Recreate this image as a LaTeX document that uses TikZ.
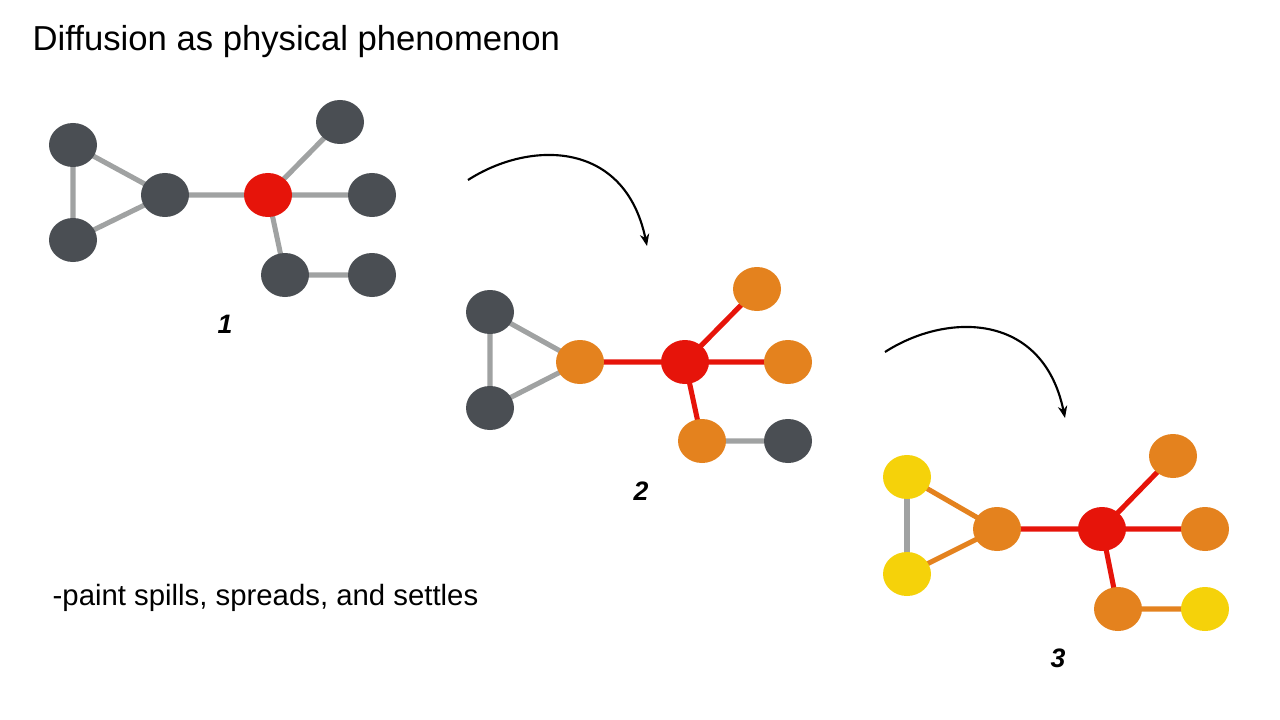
\documentclass[tikz,border=0pt]{standalone}
\usepackage{fontspec}
\setmainfont{Liberation Sans}
\usetikzlibrary{shapes.geometric,arrows.meta}
\definecolor{dk}{RGB}{74,78,83}
\definecolor{rd}{RGB}{230,20,10}
\definecolor{og}{RGB}{228,130,30}
\definecolor{yl}{RGB}{245,210,10}
\definecolor{gy}{RGB}{160,162,162}
\tikzset{
  nd/.style={ellipse,minimum width=36pt,minimum height=33pt,inner sep=0pt,fill=#1},
  ed/.style={draw=#1,line width=3.8pt},
  lbl/.style={font=\bfseries\itshape\fontsize{20}{24}\selectfont},
  arr/.style={line width=1.6pt,-{Stealth[length=9pt,width=7pt]}}
}
\begin{document}
\begin{tikzpicture}[x=0.75pt,y=-0.75pt]
\useasboundingbox (0,0) rectangle (1280,720);
\node[anchor=west,font=\fontsize{26}{30}\selectfont] (title) at (28,42) {Diffusion as physical phenomenon};
\node[anchor=west,font=\fontsize{22}{26}\selectfont] (txt) at (48,598) {-paint spills, spreads, and settles};
% graph 1
\begin{scope}
\coordinate (a1) at (73,145); \coordinate (b1) at (73,240); \coordinate (c1) at (165,195);
\coordinate (r1) at (268,195); \coordinate (t1) at (340,122); \coordinate (e1) at (372,195);
\coordinate (f1) at (285,275); \coordinate (g1) at (372,275);
\draw[ed=gy] (a1)--(b1) (a1)--(c1) (b1)--(c1) (c1)--(r1) (r1)--(t1) (r1)--(e1) (r1)--(f1) (f1)--(g1);
\node[nd=dk] (na1) at (a1) {}; \node[nd=dk] (nb1) at (b1) {}; \node[nd=dk] (nc1) at (c1) {};
\node[nd=rd] (nr1) at (r1) {}; \node[nd=dk] (nt1) at (t1) {}; \node[nd=dk] (ne1) at (e1) {};
\node[nd=dk] (nf1) at (f1) {}; \node[nd=dk] (ng1) at (g1) {};
\node[lbl] (l1) at (225,324) {1};
\end{scope}
% graph 2
\coordinate (a2) at (490,312); \coordinate (b2) at (490,408); \coordinate (c2) at (580,362);
\coordinate (r2) at (685,362); \coordinate (t2) at (757,289); \coordinate (e2) at (788,362);
\coordinate (f2) at (702,441); \coordinate (g2) at (788,441);
\draw[ed=gy] (a2)--(b2) (a2)--(c2) (b2)--(c2) (f2)--(g2);
\draw[ed=rd] (c2)--(r2) (r2)--(t2) (r2)--(e2) (r2)--(f2);
\node[nd=dk] (na2) at (a2) {}; \node[nd=dk] (nb2) at (b2) {}; \node[nd=og] (nc2) at (c2) {};
\node[nd=rd] (nr2) at (r2) {}; \node[nd=og] (nt2) at (t2) {}; \node[nd=og] (ne2) at (e2) {};
\node[nd=og] (nf2) at (f2) {}; \node[nd=dk] (ng2) at (g2) {};
\node[lbl] (l2) at (641,491) {2};
% graph 3
\coordinate (a3) at (907,477); \coordinate (b3) at (907,574); \coordinate (c3) at (997,529);
\coordinate (r3) at (1102,529); \coordinate (t3) at (1173,456); \coordinate (e3) at (1205,529);
\coordinate (f3) at (1118,609); \coordinate (g3) at (1205,609);
\draw[ed=gy] (a3)--(b3);
\draw[ed=og] (a3)--(c3) (b3)--(c3) (f3)--(g3);
\draw[ed=rd] (c3)--(r3) (r3)--(t3) (r3)--(e3) (r3)--(f3);
\node[nd=yl] (na3) at (a3) {}; \node[nd=yl] (nb3) at (b3) {}; \node[nd=og] (nc3) at (c3) {};
\node[nd=rd] (nr3) at (r3) {}; \node[nd=og] (nt3) at (t3) {}; \node[nd=og] (ne3) at (e3) {};
\node[nd=og] (nf3) at (f3) {}; \node[nd=yl] (ng3) at (g3) {};
\node[lbl] (l3) at (1058,658) {3};
% arrows
\coordinate (s1) at (468,180); \coordinate (d1) at (647,246);
\draw[arr] (s1) .. controls (530,140) and (625,140) .. (d1);
\coordinate (s2) at (885,352); \coordinate (d2) at (1065,418);
\draw[arr] (s2) .. controls (947,312) and (1043,312) .. (d2);
\end{tikzpicture}
\end{document}
